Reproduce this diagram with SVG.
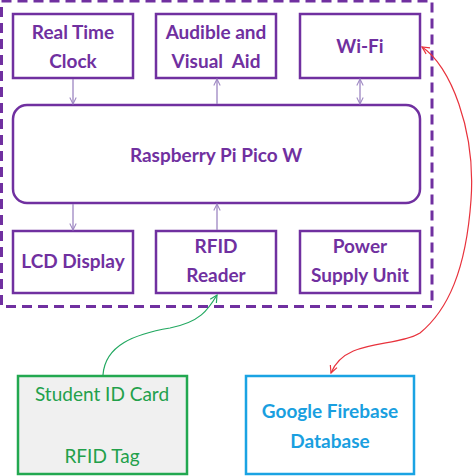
<svg xmlns="http://www.w3.org/2000/svg" width="474" height="476" viewBox="0 0 474 476">
<defs>
<style>
.box{fill:#fff;stroke:#7030a0;stroke-width:2.5}
.t{font-family:Lato,"Liberation Sans",sans-serif;font-weight:bold;font-size:19px;fill:#7030a0;text-anchor:middle}
.a{stroke:#9d86c2;stroke-width:1.3;fill:none}
</style>
<marker id="ah" viewBox="0 0 10 10" refX="9" refY="5" markerWidth="8" markerHeight="8" orient="auto-start-reverse" markerUnits="userSpaceOnUse">
<path d="M1,1 L9,5 L1,9" fill="none" stroke="#9d86c2" stroke-width="1.3"/>
</marker>
<marker id="ahr" viewBox="0 0 10 10" refX="9" refY="5" markerWidth="9" markerHeight="9" orient="auto-start-reverse" markerUnits="userSpaceOnUse">
<path d="M1,1 L9,5 L1,9" fill="none" stroke="#e8323c" stroke-width="1.3"/>
</marker>
<marker id="ahg" viewBox="0 0 10 10" refX="9" refY="5" markerWidth="9" markerHeight="9" orient="auto" markerUnits="userSpaceOnUse">
<path d="M1,1 L9,5 L1,9" fill="none" stroke="#22a860" stroke-width="1.3"/>
</marker>
</defs>
<rect x="0" y="0" width="474" height="476" fill="#fff"/>
<rect id="frame" x="1.5" y="1" width="430.5" height="305.5" fill="none" stroke="#7030a0" stroke-width="3" stroke-dasharray="10,6"/>
<g id="rtc"><rect class="box" x="13" y="14" width="120" height="64"/><text class="t" x="73" y="39">Real Time</text><text class="t" x="73" y="68">Clock</text></g>
<g id="audible"><rect class="box" x="156" y="14" width="120" height="64"/><text class="t" x="216" y="39">Audible and</text><text class="t" x="216" y="68" xml:space="preserve">Visual  Aid</text></g>
<g id="wifi"><rect class="box" x="300" y="14" width="120" height="64"/><text class="t" x="360" y="53">Wi-Fi</text></g>
<g id="pico"><rect class="box" x="13" y="105" width="407" height="98" rx="14"/><text class="t" x="216" y="162">Raspberry Pi Pico W</text></g>
<g id="lcd"><rect class="box" x="13" y="231" width="120" height="62"/><text class="t" x="73" y="268">LCD Display</text></g>
<g id="rfid"><rect class="box" x="156" y="231" width="120" height="62"/><text class="t" x="216" y="253">RFID</text><text class="t" x="216" y="282">Reader</text></g>
<g id="psu"><rect class="box" x="300" y="231" width="120" height="62"/><text class="t" x="360" y="253">Power</text><text class="t" x="360" y="282">Supply Unit</text></g>
<g id="card"><rect x="18" y="376" width="169" height="98" fill="#f0f0f0" stroke="#22a850" stroke-width="2.5"/><text x="102" y="401" font-family="Lato,'Liberation Sans',sans-serif" font-size="19" fill="#22a04b" text-anchor="middle">Student ID Card</text><text x="102" y="463" font-family="Lato,'Liberation Sans',sans-serif" font-size="19" fill="#22a04b" text-anchor="middle">RFID Tag</text></g>
<g id="firebase"><rect x="246" y="376" width="168" height="98" fill="#fff" stroke="#1aa3e3" stroke-width="2.5"/><text x="330" y="418" font-family="Lato,'Liberation Sans',sans-serif" font-weight="bold" font-size="19" fill="#1a9fe0" text-anchor="middle">Google Firebase</text><text x="330" y="448" font-family="Lato,'Liberation Sans',sans-serif" font-weight="bold" font-size="19" fill="#1a9fe0" text-anchor="middle">Database</text></g>
<g id="connectors">
<line class="a" x1="73" y1="79" x2="73" y2="104" marker-end="url(#ah)"/>
<line class="a" x1="217" y1="104" x2="217" y2="79" marker-end="url(#ah)"/>
<line class="a" x1="360" y1="79" x2="360" y2="104" marker-start="url(#ah)" marker-end="url(#ah)"/>
<line class="a" x1="73" y1="204" x2="73" y2="230" marker-end="url(#ah)"/>
<line class="a" x1="217" y1="230" x2="217" y2="204" marker-end="url(#ah)"/>
<path d="M103,375 C105,345 135,334 170,328 C200,322 208,310 217,295" fill="none" stroke="#22a860" stroke-width="1.2" marker-end="url(#ahg)"/>
<path d="M422,47 C450,65 476,130 471,200 C466,270 448,310 420,333 C395,348 345,338 331,373" fill="none" stroke="#e8323c" stroke-width="1.2" marker-start="url(#ahr)" marker-end="url(#ahr)"/>
</g>
</svg>
